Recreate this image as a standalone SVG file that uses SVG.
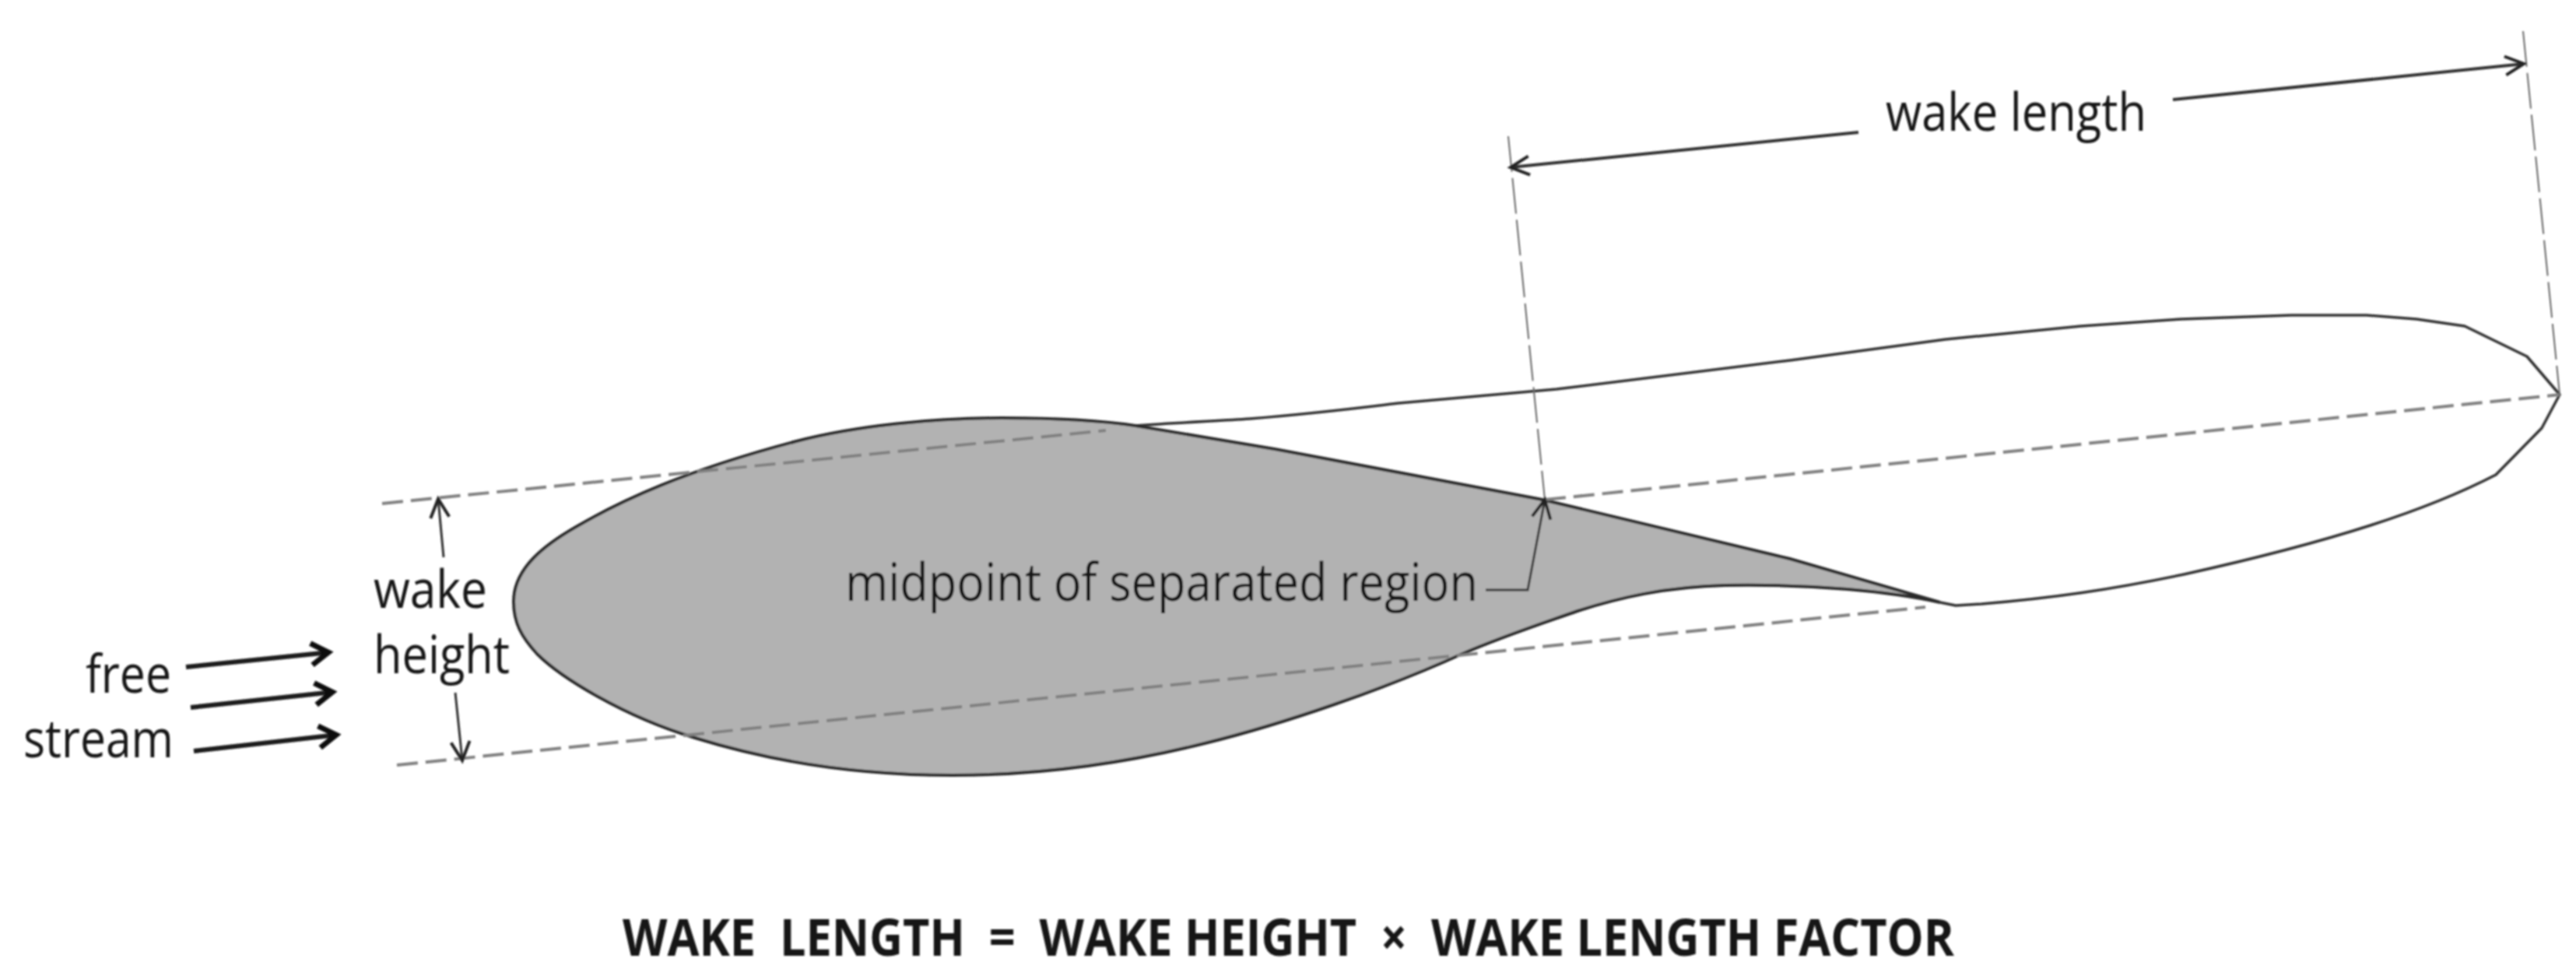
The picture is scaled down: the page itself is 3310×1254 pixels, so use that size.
<svg xmlns="http://www.w3.org/2000/svg" width="3310" height="1254" viewBox="0 0 3310 1254">
<style>
text{font-family:"Open Sans","Noto Sans","Liberation Sans",sans-serif;fill:#161616;font-size:67px;white-space:pre}
.o{fill:none;stroke:#333;stroke-width:3.5;stroke-linejoin:round}
.d{fill:none;stroke:#808080;stroke-width:4;stroke-dasharray:27 10}
.v{fill:none;stroke:#666;stroke-width:2;stroke-dasharray:46 8}
.a{fill:none;stroke:#333;stroke-width:3;marker-end:url(#h)}
.l{fill:none;stroke:#333;stroke-width:4;marker-end:url(#h)}
.b{fill:none;stroke:#1c1c1c;stroke-width:6;marker-end:url(#h2)}
</style>
<defs>
<marker id="h" markerUnits="userSpaceOnUse" markerWidth="40" markerHeight="40" refX="30" refY="20" orient="auto"><path d="M6 8L30 20L6 32" fill="none" stroke="#222" stroke-width="4"/></marker>
<marker id="h2" markerUnits="userSpaceOnUse" markerWidth="40" markerHeight="40" refX="32" refY="20" orient="auto"><path d="M8 6L30 20L8 34" fill="none" stroke="#111" stroke-width="7"/><path d="M20 14L32 20L20 26Z" fill="#111"/></marker>
<filter id="s" x="-2%" y="-2%" width="104%" height="104%"><feGaussianBlur stdDeviation="1"/></filter>
</defs>
<rect width="3310" height="1254" fill="#fff"/>
<g filter="url(#s)">
<g id="wake-region"><path class="o" d="M1459 547C1510 543 1560 541 1606 538C1680 532 1740 525 1797 518L2000 500L2300 463L2500 436L2674 419L2803 410L2944 405L3041 405L3105 410L3167 419L3247 458L3289 507L3266 550L3207 610C3120 655 3000 695 2806 738C2710 758 2640 768 2546 776L2513 778L2493 774"/></g>
<g id="separated-region"><path d="M660 773C660 730 700 700 740 677C800 642 880 605 1023 567C1100 547 1200 537 1287 537C1340 537 1400 538 1459 547L1638 577L1982 642L2300 718L2493 774C2430 760 2330 750 2217 752C2140 754 2080 768 2027 785C1970 805 1930 818 1879 840C1780 885 1650 930 1548 955C1440 982 1330 996 1224 996C1090 996 980 975 893 948C800 920 720 870 690 840C670 818 660 800 660 773Z" fill="#b2b2b2" stroke="#2c2c2c" stroke-width="4"/></g>
<g id="connectors">
<path class="d" d="M491 647L1421 553"/>
<path class="d" d="M510 983L2474 780"/>
<path class="d" d="M1985 642L3289 507"/>
<path class="v" d="M1938 175L1985 642"/>
<path class="v" d="M3242 40L3289 507"/>
<path class="l" d="M2388 170L1941 215"/>
<path class="l" d="M2792 128L3243 82"/>
<path class="a" d="M570 716L563 641"/>
<path class="a" d="M585 890L594 977"/>
<path class="a" d="M1909 758L1963 758L1985 642"/>
<path class="b" d="M239 857L424 838"/>
<path class="b" d="M245 909L429 889"/>
<path class="b" d="M249 965L434 944"/>
</g>
<g id="labels">
<text x="2423" y="168" textLength="335" lengthAdjust="spacingAndGlyphs">wake length</text>
<text x="1086" y="772" textLength="813" lengthAdjust="spacingAndGlyphs">midpoint of separated region</text>
<text x="480" y="781" textLength="146" lengthAdjust="spacingAndGlyphs">wake</text>
<text x="480" y="865" textLength="175" lengthAdjust="spacingAndGlyphs">height</text>
<text x="110" y="890" textLength="110" lengthAdjust="spacingAndGlyphs">free</text>
<text x="30" y="973" textLength="193" lengthAdjust="spacingAndGlyphs">stream</text>
<text x="800" y="1228" textLength="1711" lengthAdjust="spacingAndGlyphs" font-weight="700">WAKE  LENGTH  =  WAKE HEIGHT  ×  WAKE LENGTH FACTOR</text>
</g>
</g>
</svg>
